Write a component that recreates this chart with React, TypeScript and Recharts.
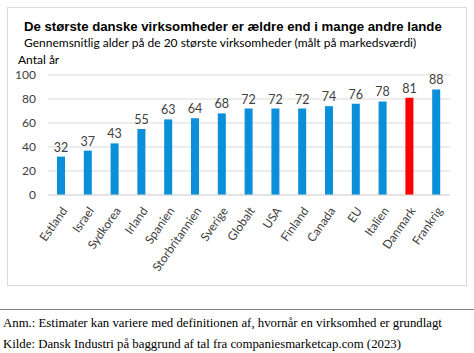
import React from "react";
import { BarChart, Bar, XAxis, YAxis, CartesianGrid, Cell, LabelList } from "recharts";

const countries = ["Estland", "Israel", "Sydkorea", "Irland", "Spanien", "Storbritannien", "Sverige", "Globalt", "USA", "Finland", "Canada", "EU", "Italien", "Danmark", "Frankrig"];
const ages = [32, 37, 43, 55, 63, 64, 68, 72, 72, 72, 74, 76, 78, 81, 88];
const yTicks = [0, 20, 40, 60, 80, 100];
const highlight = "Danmark";

const data = countries.map((c, i) => ({ name: c, value: ages[i] }));

const BLUE = "#0a8fd8";
const RED = "#ff0000";
const SANS = "Lato, 'Open Sans', sans-serif";
const SERIF = "'Liberation Serif', 'Times New Roman', serif";

const XTick = (props: any) => {
  const { x, y, payload } = props;
  return (
    <text
      x={x + 4}
      y={y + 6}
      transform={`rotate(-55, ${x + 4}, ${y + 6})`}
      textAnchor="end"
      dominantBaseline="middle"
      fontFamily={SANS}
      fontSize={12}
      fill="#404040"
    >
      {payload.value}
    </text>
  );
};

export default function App() {
  return (
    <div style={{ position: "absolute", left: 0, top: 0, width: 474, height: 353, background: "#fff", overflow: "hidden" }}>
      <div style={{ position: "absolute", left: 7, top: 7, width: 460, height: 279, border: "1px solid #d9d9d9", boxSizing: "border-box" }} />
      <div style={{ position: "absolute", left: 24, top: 18, fontFamily: "'Liberation Sans', Arial, sans-serif", fontWeight: "bold", fontSize: 13.2, lineHeight: "17px", color: "#000", whiteSpace: "nowrap" }}>
        De største danske virksomheder er ældre end i mange andre lande
      </div>
      <div style={{ position: "absolute", left: 24, top: 35, fontFamily: SANS, fontSize: 12, lineHeight: "16px", color: "#000", whiteSpace: "nowrap" }}>
        Gennemsnitlig alder på de 20 største virksomheder (målt på markedsværdi)
      </div>
      <div style={{ position: "absolute", left: 18, top: 52, fontFamily: SANS, fontSize: 12, lineHeight: "16px", color: "#000", whiteSpace: "nowrap" }}>
        Antal år
      </div>
      <div style={{ position: "absolute", left: 0, top: 0 }}>
        <BarChart width={474} height={290} data={data} margin={{ top: 75, right: 24, left: 0, bottom: 0 }} barCategoryGap="0%">
          <CartesianGrid vertical={false} stroke="#d9d9d9" />
          <XAxis
            dataKey="name"
            interval={0}
            height={95}
            tickLine={false}
            axisLine={{ stroke: "#d9d9d9" }}
            tick={<XTick />}
          />
          <YAxis
            width={48}
            domain={[0, 100]}
            ticks={yTicks}
            tickLine={false}
            axisLine={false}
            tickSize={0}
            tickMargin={12}
            tick={{ fontFamily: SANS, fontSize: 12, fill: "#404040" }}
          />
          <Bar dataKey="value" barSize={8} isAnimationActive={false}>
            {data.map((d) => (
              <Cell key={d.name} fill={d.name === highlight ? RED : BLUE} />
            ))}
            <LabelList dataKey="value" position="top" offset={5} style={{ fontFamily: SANS, fontSize: 12.5, fill: "#404040" }} />
          </Bar>
        </BarChart>
      </div>
      <div style={{ position: "absolute", left: 0, top: 309, width: 474, height: 1, background: "#808080" }} />
      <div style={{ position: "absolute", left: 3, top: 315, fontFamily: SERIF, fontSize: 12.8, lineHeight: "16px", color: "#000", whiteSpace: "nowrap" }}>
        Anm.: Estimater kan variere med definitionen af, hvornår en virksomhed er grundlagt
      </div>
      <div style={{ position: "absolute", left: 3, top: 336, fontFamily: SERIF, fontSize: 12.8, lineHeight: "16px", color: "#000", whiteSpace: "nowrap" }}>
        Kilde: Dansk Industri på baggrund af tal fra companiesmarketcap.com (2023)
      </div>
    </div>
  );
}
